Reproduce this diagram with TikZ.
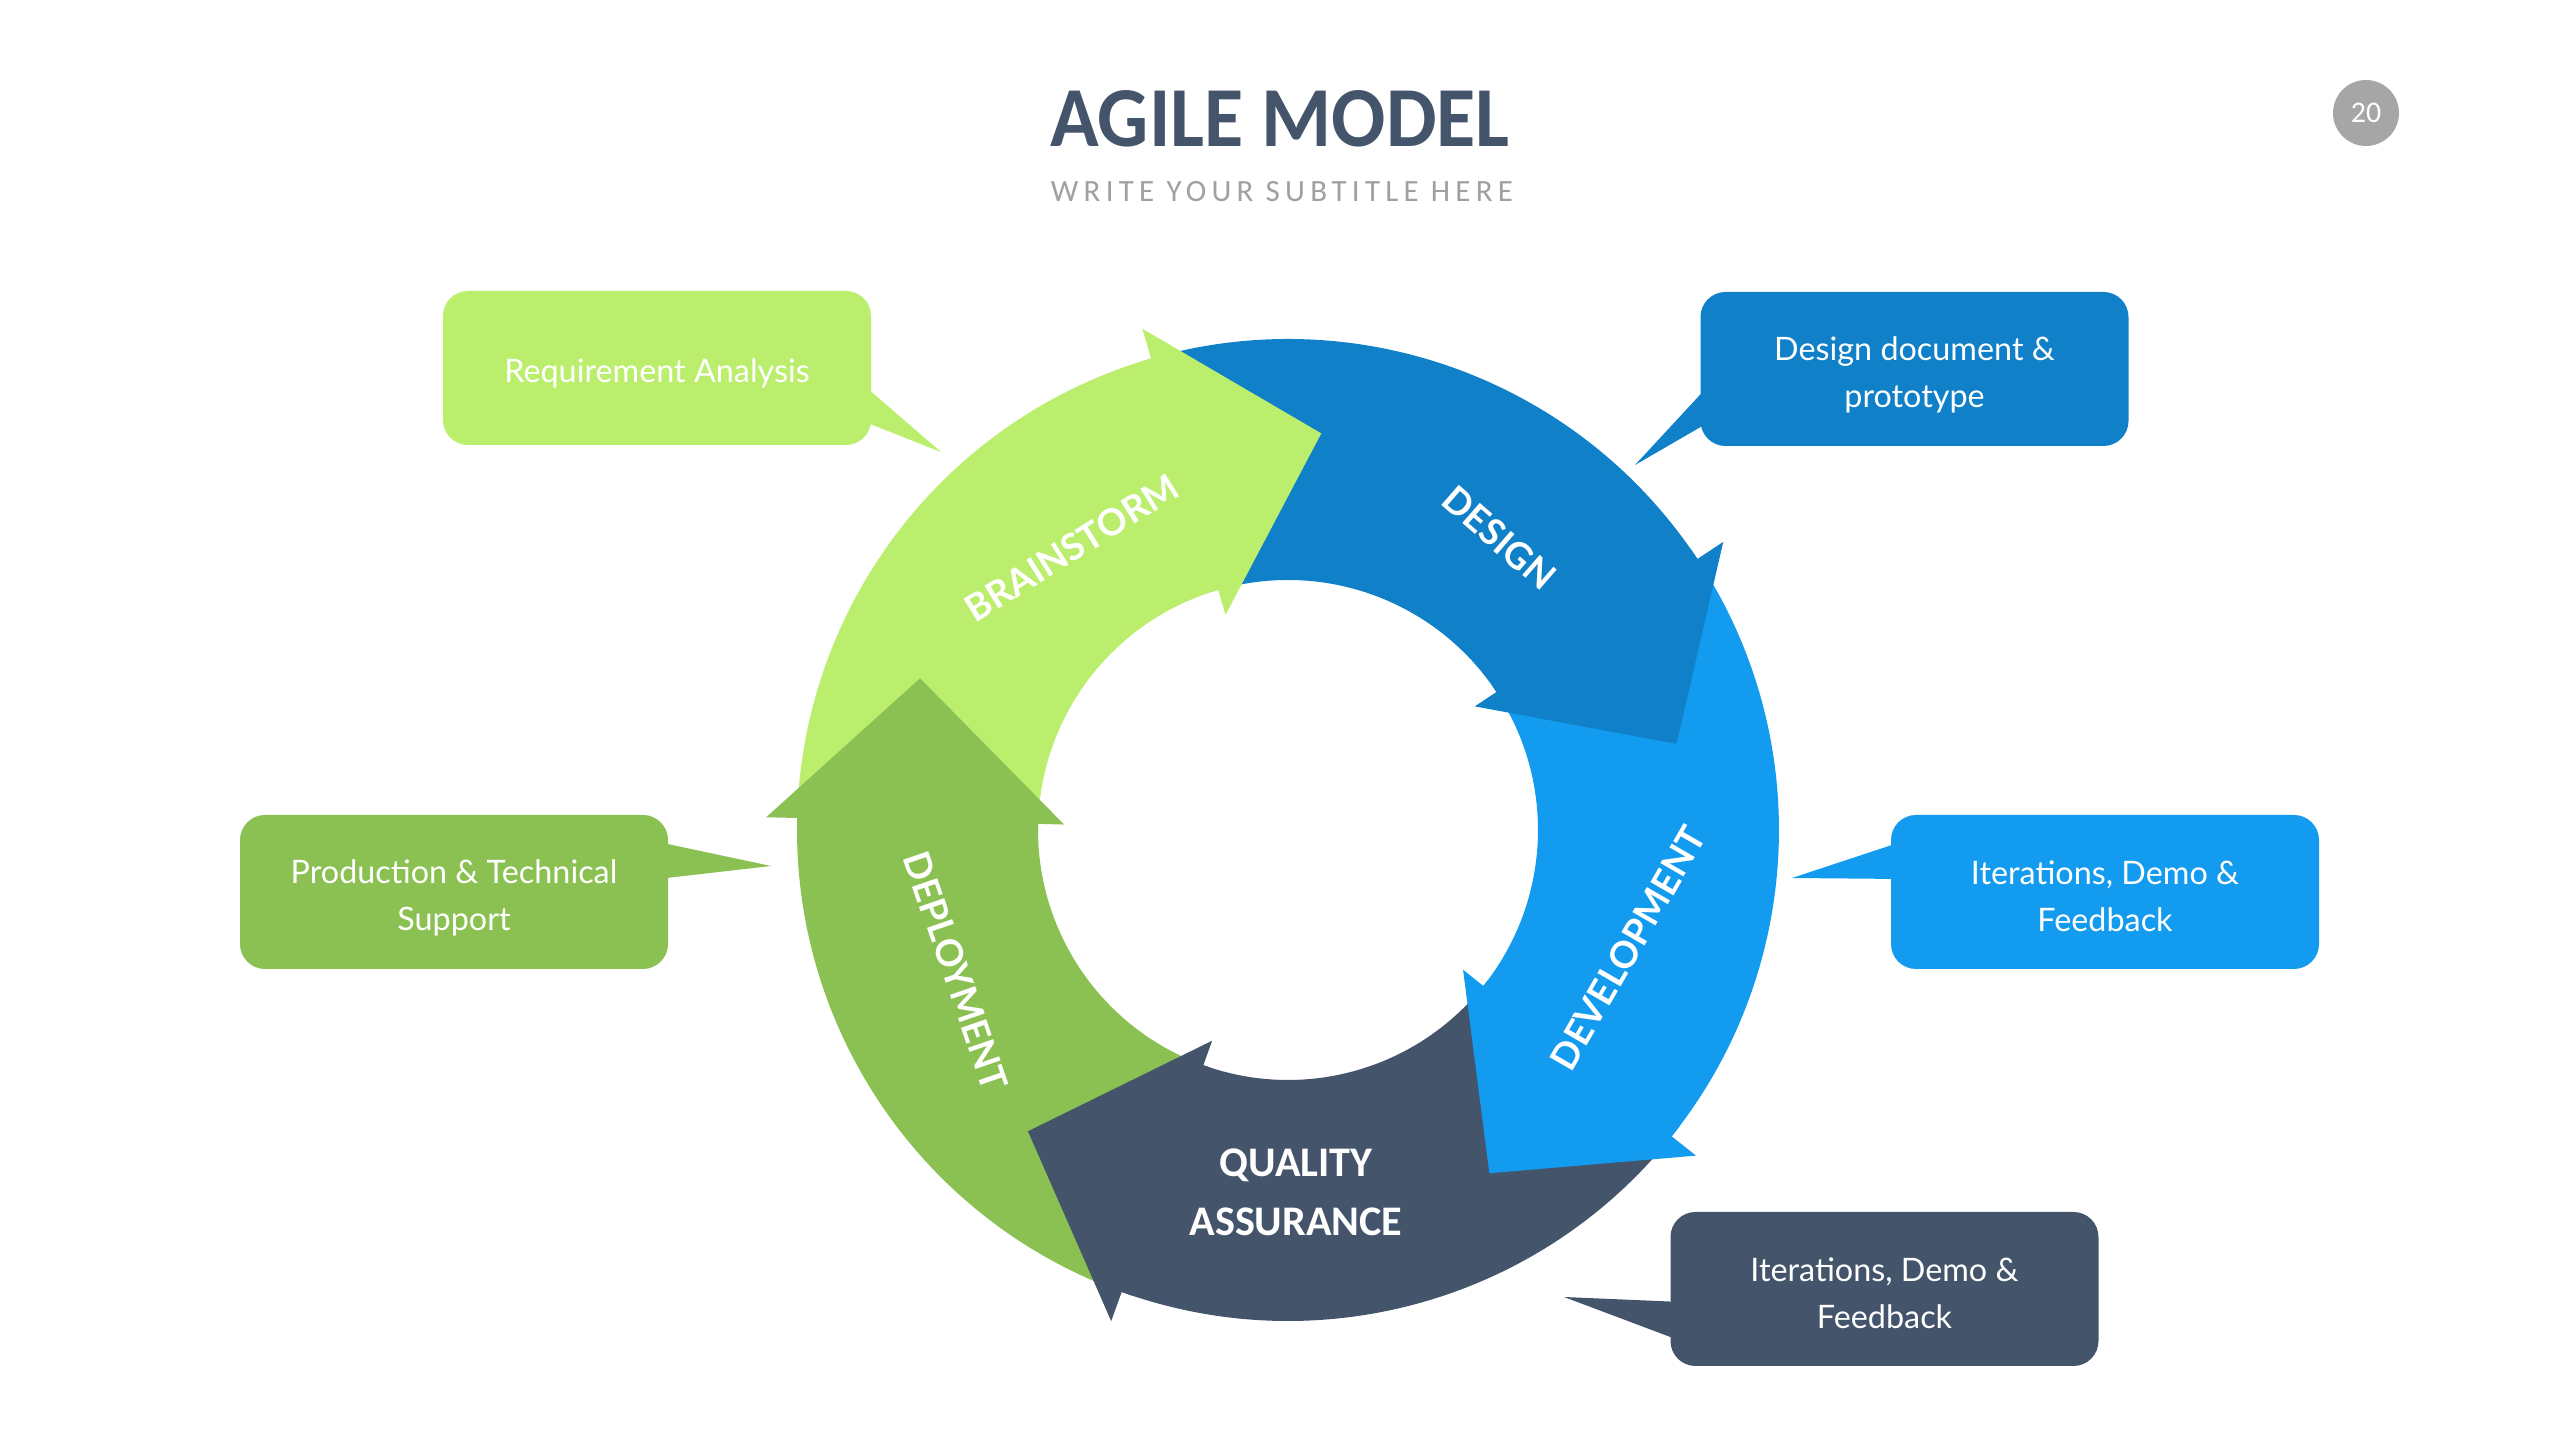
\documentclass[tikz,border=0pt]{standalone}
\usepackage{fontspec}
\setmainfont{Lato}
\newfontfamily\titlefont{Carlito}[FakeStretch=0.94]
\newfontfamily\subfont{Carlito}[LetterSpace=17]
\newfontfamily\qafont{Carlito}
\usetikzlibrary{calc}
\definecolor{lgreen}{RGB}{187,238,108}
\definecolor{mgreen}{RGB}{139,193,82}
\definecolor{dblue}{RGB}{16,128,200}
\definecolor{lblue}{RGB}{19,156,239}
\definecolor{slate}{RGB}{68,84,106}
\definecolor{subgray}{RGB}{160,160,160}
\definecolor{pagegray}{RGB}{166,166,166}
\tikzset{
  callout/.style={rounded corners=0.25cm, minimum width=4.28cm, minimum height=1.54cm,
    inner sep=0pt, fill=#1},
  callouttext/.style={align=center, text=white, inner sep=0pt, font=\fontsize{9.2}{13.4}\selectfont},
  ringlbl/.style={text=white, inner sep=0pt, font=\bfseries\fontsize{10.5}{12}\selectfont},
}
\begin{document}
\begin{tikzpicture}
\useasboundingbox (0,0) rectangle (25.59,14.40);
\fill[white] (0,0) rectangle (25.59,14.40);
\coordinate (C) at (12.88,6.10);
\def\Ro{4.91}\def\Ri{2.50}\def\Ho{5.22}\def\Hi{2.24}\def\Ht{3.98}
% arrow bodies: colour / start angle / base angle of head
\foreach \col/\s/\b in {lgreen/178.6/106.2, dblue/106.2/33.5, lblue/33.5/-38.6, slate/-38.6/-109.8, mgreen/-109.8/-181.4}{
  \fill[\col] ([shift={(C)}]\s:\Ro) arc[start angle=\s, end angle=\b, radius=\Ro]
     -- ([shift={(C)}]\b:\Ri) arc[start angle=\b, end angle=\s, radius=\Ri] -- cycle;
}
% arrow heads (with a short piece of their own body, to hide the seam)
\foreach \col/\b in {lgreen/106.2, dblue/33.5, lblue/-38.6, slate/-109.8, mgreen/-181.4}{
  \pgfmathsetmacro\t{\b-21}
  \pgfmathsetmacro\bb{\b+1.5}
  \fill[\col] ([shift={(C)}]\bb:\Ri) arc[start angle=\bb, end angle=\b, radius=\Ri]
     -- ([shift={(C)}]\b:\Hi) -- ([shift={(C)}]\t:\Ht) -- ([shift={(C)}]\b:\Ho)
     -- ([shift={(C)}]\b:\Ro) arc[start angle=\b, end angle=\bb, radius=\Ro] -- cycle;
}
% ring labels
\node[ringlbl, rotate=32] (lblB) at (10.715,8.92) {BRAINSTORM};
\node[ringlbl, rotate=-41] (lblD) at (14.99,9.02) {DESIGN};
\node[ringlbl, rotate=60] (lblV) at (16.28,4.92) {DEVELOPMENT};
\node[ringlbl, rotate=-71] (lblP) at (9.56,4.69) {DEPLOYMENT};
\node[text=white, inner sep=0pt, align=center, font=\qafont\bfseries\fontsize{12}{16.8}\selectfont] (lblQ) at (12.96,2.48) {QUALITY\\ASSURANCE};
% callouts
\node[callout=lgreen] (req) at (6.57,10.72) {};
\fill[lgreen] (8.60,10.58) -- (9.41,9.88) -- (8.60,10.20) -- cycle;
\node[callouttext] (reqT) at ($(req.center)+(0,-0.05)$) {Requirement Analysis};
\node[callout=dblue] (des) at (19.145,10.71) {};
\fill[dblue] (17.11,10.57) -- (16.35,9.75) -- (17.11,10.19) -- cycle;
\node[callouttext] (desT) at ($(des.center)+(0,-0.06)$) {Design document \&\\prototype};
\node[callout=mgreen] (prod) at (4.54,5.48) {};
\fill[mgreen] (6.58,5.98) -- (7.71,5.74) -- (6.58,5.61) -- cycle;
\node[callouttext] (prodT) at ($(prod.center)+(0,-0.06)$) {Production \& Technical\\Support};
\node[callout=lblue] (iter1) at (21.05,5.48) {};
\fill[lblue] (19.01,5.98) -- (17.92,5.62) -- (19.01,5.61) -- cycle;
\node[callouttext] (iter1T) at ($(iter1.center)+(0,-0.04)$) {Iterations, Demo \&\\Feedback};
\node[callout=slate] (iter2) at (18.845,1.51) {};
\fill[slate] (16.81,1.38) -- (15.64,1.43) -- (16.81,0.99) -- cycle;
\node[callouttext] (iter2T) at ($(iter2.center)+(0,-0.04)$) {Iterations, Demo \&\\Feedback};
% title
\node[anchor=base, text=slate, inner sep=0pt, font=\titlefont\bfseries\fontsize{24.3}{28}\selectfont] (title) at (12.80,12.93) {AGILE MODEL};
\node[anchor=base, text=subgray, inner sep=0pt, font=\subfont\fontsize{8.8}{10}\selectfont] (sub) at (12.82,12.38) {WRITE YOUR SUBTITLE HERE};
\node[circle, fill=pagegray, minimum size=0.66cm, inner sep=0pt, text=white, font=\qafont\fontsize{8.5}{10}\selectfont] (pg) at (23.66,13.27) {20};
\end{tikzpicture}
\end{document}
